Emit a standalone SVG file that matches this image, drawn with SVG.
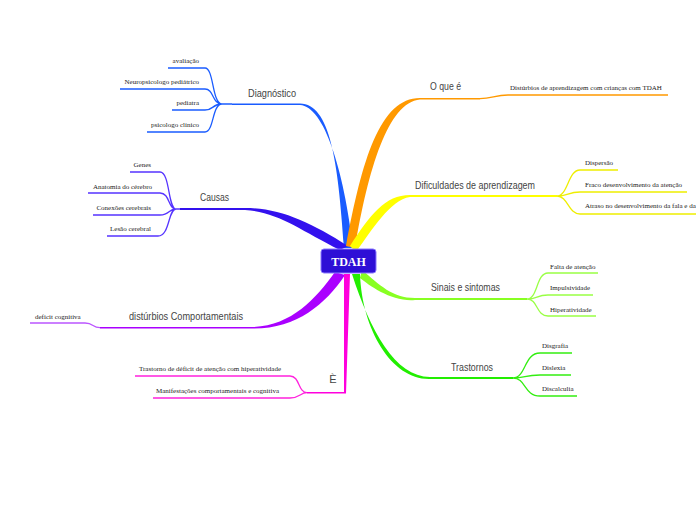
<svg xmlns="http://www.w3.org/2000/svg" width="696" height="520" viewBox="0 0 696 520">
<style>
.lb{font-family:"Liberation Sans",sans-serif;font-size:11px;fill:#444}
.lf{font-family:"Liberation Serif",serif;font-size:7px;fill:#222}
.s{fill:none;stroke-width:1.3}
</style>
<rect width="696" height="520" fill="#fff"/>
<g id="connectors">
<path d="M344,248 C338,160 330,104 300,103.5 L232,103.5 L232,105 L300,105 C324,106 344,170 353,248 Z" fill="#1a5cff"/>
<path class="s" stroke="#1a5cff" d="M232,104 L222,104 M222,104 C212,104 214,68 205,68 L168,68 M222,104 C212,104 214,89 205,89 L120,89 M222,104 C212,104 214,110 205,110 L172,110 M222,104 C212,104 214,132 205,132 L147,132"/>
<path d="M348,246 C310,222 280,208 245,208 L180,208 L180,210 L245,210 C278,212 300,230 340,250 Z" fill="#3311ee"/>
<path class="s" stroke="#5533ff" d="M180,209 L176,209 C168,209 170,172 160,172 L130,172 M176,209 C168,209 170,193 160,193 L88,193 M176,209 C168,209 170,215 160,215 L93,215 M176,209 C168,209 170,236 158,236 L107,236"/>
<path d="M346,246 C362,160 380,98 420,98 L480,98 L480,99.5 L420,99.5 C388,102 368,170 355,248 Z" fill="#ff9900"/>
<path class="s" stroke="#ff9900" d="M480,98.7 C492,98.7 495,95 508,95 L668,95"/>
<path d="M350,246 C370,215 385,195 410,195 L557,195 L557,197 L410,197 C390,200 372,230 356,252 Z" fill="#ffff00"/>
<path class="s" stroke="#eeee00" d="M557,196 C568,196 568,170 580,170 L618,170 M557,196 C568,196 568,192 580,192 L687,192 M557,196 C568,196 568,214 580,214 L696,214"/>
<path d="M362,270 C380,285 392,298 415,298 L527,298 L527,300 L415,300 C392,302 370,286 360,278 Z" fill="#88ff22"/>
<path class="s" stroke="#99ff44" d="M527,299 C538,299 536,273 548,273 L598,273 M527,299 C538,299 536,295 548,295 L593,295 M527,299 C538,299 536,316 548,316 L596,316"/>
<path d="M352,274 C370,330 395,377 430,377 L513,377 L513,379 L430,379 C392,380 362,330 360,274 Z" fill="#22ee00"/>
<path class="s" stroke="#33ee11" d="M513,378 C526,378 524,353 540,353 L572,353 M513,378 C526,378 524,375 540,375 L571,375 M513,378 C526,378 524,396 540,396 L577,396"/>
<path d="M335,272 C315,300 290,327 250,327 L100,327 L100,328.5 L250,328.5 C295,330 325,305 345,275 Z" fill="#aa00ff"/>
<path class="s" stroke="#bb55ff" d="M100,327.7 C92,327.7 94,323 85,323 L30,323"/>
<path d="M344,274 L344,392 L307,392 L307,393.5 L346,393.5 L350,274 Z" fill="#ff00dd"/>
<path class="s" stroke="#ff22dd" d="M307,392.7 C298,392.7 300,376 290,376 L135,376 M307,392.7 C300,392.7 300,398 290,398 L153,398"/>
</g>
<g id="TDAH">
<rect x="321" y="249" width="55" height="24" rx="3" fill="#2e0fd6" stroke="#8877ff" stroke-width="1"/>
<text x="348.5" y="266" text-anchor="middle" font-family="Liberation Serif,serif" font-weight="bold" font-size="12" fill="#fff">TDAH</text>
</g>
<g id="diagnostico"><text class="lb" x="248" y="97" textLength="48" lengthAdjust="spacingAndGlyphs">Diagnóstico</text>
<text class="lf" x="199" y="63" text-anchor="end">avaliação</text>
<text class="lf" x="199" y="84" text-anchor="end">Neuropsicologo pediátrico</text>
<text class="lf" x="199" y="105" text-anchor="end">pediatra</text>
<text class="lf" x="199" y="127" text-anchor="end">psicologo clínico</text></g>
<g id="causas"><text class="lb" x="200" y="201" textLength="29" lengthAdjust="spacingAndGlyphs">Causas</text>
<text class="lf" x="151" y="167" text-anchor="end">Genes</text>
<text class="lf" x="152" y="189" text-anchor="end">Anatomia do cérebro</text>
<text class="lf" x="151" y="210" text-anchor="end">Conexões cerebrais</text>
<text class="lf" x="151" y="231" text-anchor="end">Lesão cerebral</text></g>
<g id="oque"><text class="lb" x="430" y="90" textLength="31" lengthAdjust="spacingAndGlyphs">O que é</text>
<text class="lf" x="510" y="90">Distúrbios  de aprendizagem com crianças com TDAH</text></g>
<g id="dificuldades"><text class="lb" x="415" y="189" textLength="120" lengthAdjust="spacingAndGlyphs">Dificuldades de aprendizagem</text>
<text class="lf" x="585" y="165">Dispersão</text>
<text class="lf" x="585" y="187">Fraco desenvolvimento da atenção</text>
<text class="lf" x="585" y="208">Atraso no desenvolvimento da fala e da</text></g>
<g id="sinais"><text class="lb" x="431" y="291" textLength="69" lengthAdjust="spacingAndGlyphs">Sinais e sintomas</text>
<text class="lf" x="550" y="269">Falta de atenção</text>
<text class="lf" x="550" y="290">Impulsividade</text>
<text class="lf" x="550" y="312">Hiperatividade</text></g>
<g id="trastornos"><text class="lb" x="451" y="371" textLength="42" lengthAdjust="spacingAndGlyphs">Trastornos</text>
<text class="lf" x="542" y="348">Disgrafia</text>
<text class="lf" x="542" y="370">Dislexia</text>
<text class="lf" x="542" y="391">Discalculia</text></g>
<g id="disturbios"><text class="lb" x="129" y="320" textLength="114" lengthAdjust="spacingAndGlyphs">distúrbios Comportamentais</text>
<text class="lf" x="35" y="319">deficit cognitiva</text></g>
<g id="e"><text class="lb" x="333" y="383" text-anchor="middle">È</text>
<text class="lf" x="139" y="371">Trastorno de déficit de atenção com hiperatividade</text>
<text class="lf" x="156" y="393">Manifestações comportamentais e  cognitiva</text></g>
</svg>
